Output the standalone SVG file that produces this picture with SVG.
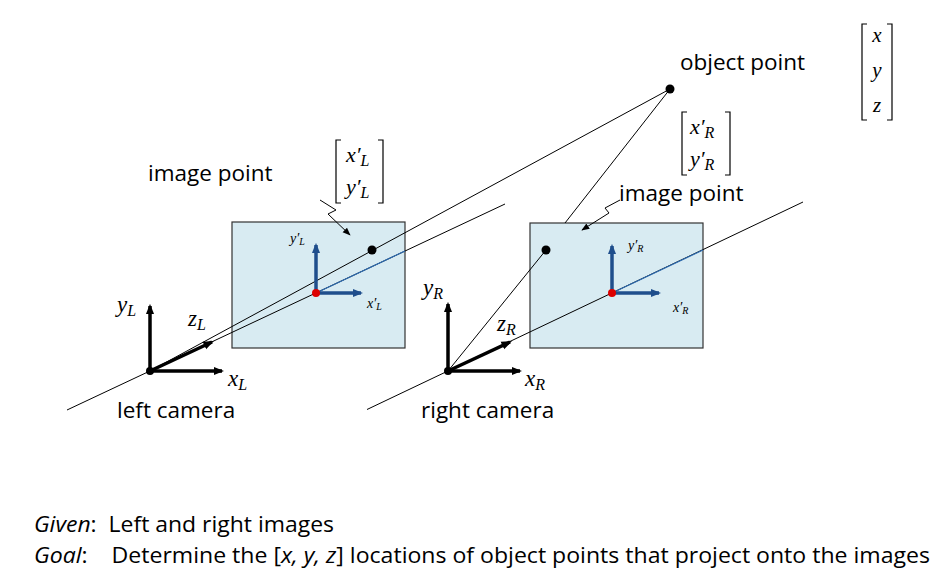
<svg xmlns="http://www.w3.org/2000/svg" width="946" height="586" viewBox="0 0 946 586">
<style>
.s{font-family:"Open Sans","Noto Sans",sans-serif;font-size:22.5px;fill:#000}
.m{font-family:"Liberation Serif","DejaVu Serif",serif;font-style:italic;fill:#000}
.th{stroke:#000;stroke-width:1;fill:none}
.br{stroke:#000;stroke-width:1.2;fill:none}
.k{stroke:#000;stroke-width:3.5;fill:none}
.b{stroke:#1f4e8c;stroke-width:3.5;fill:none}
.img{fill:#d8ebf2;stroke:#333;stroke-width:1.2}
</style>
<defs>
<marker id="ak" viewBox="0 0 10 10" refX="8" refY="5" markerWidth="3" markerHeight="3" orient="auto"><path d="M0,1 L10,5 L0,9 z" fill="#000"/></marker>
<marker id="ab" viewBox="0 0 10 10" refX="8" refY="5" markerWidth="3" markerHeight="3" orient="auto"><path d="M0,1 L10,5 L0,9 z" fill="#1f4e8c"/></marker>
<marker id="as" viewBox="0 0 10 10" refX="9" refY="5" markerWidth="8" markerHeight="8" orient="auto"><path d="M0,1 L10,5 L0,9 z" fill="#000"/></marker>
</defs>
<rect width="946" height="586" fill="#fff"/>
<g id="left-image"><rect class="img" x="232" y="222" width="173" height="126"/></g>
<g id="right-image"><rect class="img" x="530" y="223" width="173" height="125"/></g>
<g id="connectors">
<line class="th" x1="67" y1="410" x2="505" y2="204"/>
<line class="th" x1="150" y1="371" x2="670" y2="89"/>
<line class="th" x1="367" y1="409.5" x2="803" y2="202"/>
<line class="th" x1="448" y1="371" x2="546" y2="250"/>
<line class="th" x1="670" y1="89" x2="565" y2="223"/>
<line x1="316" y1="293" x2="405" y2="251" stroke="#2e6db4" stroke-width="1.2"/>
<line x1="612" y1="293" x2="703" y2="250" stroke="#2e6db4" stroke-width="1.2"/>
<polyline class="th" points="320,200 336,210 328,214 350,235" marker-end="url(#as)" stroke-width="1.2"/>
<polyline class="th" points="620,200 605,208 609,213 582,230" marker-end="url(#as)" stroke-width="1.2"/>
</g>
<g id="left-camera">
<line class="k" x1="150" y1="371" x2="150" y2="306" marker-end="url(#ak)"/>
<line class="k" x1="150" y1="371" x2="222" y2="371" marker-end="url(#ak)"/>
<line class="k" x1="150" y1="371" x2="212" y2="342" marker-end="url(#ak)"/>
<circle cx="150" cy="371" r="4"/>
<text class="m" x="117" y="312" style="font-size:23px">y<tspan style="font-size:16px" dy="4">L</tspan></text>
<text class="m" x="188" y="326" style="font-size:23px">z<tspan style="font-size:16px" dy="4">L</tspan></text>
<text class="m" x="228" y="386" style="font-size:23px">x<tspan style="font-size:16px" dy="4">L</tspan></text>
<text class="s" x="117" y="418">left camera</text>
</g>
<g id="right-camera">
<line class="k" x1="448" y1="371" x2="448" y2="304" marker-end="url(#ak)"/>
<line class="k" x1="448" y1="371" x2="520" y2="371" marker-end="url(#ak)"/>
<line class="k" x1="448" y1="371" x2="510" y2="342" marker-end="url(#ak)"/>
<circle cx="448" cy="371" r="4"/>
<text class="m" x="423" y="295" style="font-size:23px">y<tspan style="font-size:16px" dy="4">R</tspan></text>
<text class="m" x="497" y="331" style="font-size:23px">z<tspan style="font-size:16px" dy="4">R</tspan></text>
<text class="m" x="525" y="386" style="font-size:23px">x<tspan style="font-size:16px" dy="4">R</tspan></text>
<text class="s" x="421" y="418">right camera</text>
</g>
<g id="left-image-axes">
<line class="b" x1="316" y1="293" x2="316" y2="245" marker-end="url(#ab)"/>
<line class="b" x1="316" y1="293" x2="361" y2="293" marker-end="url(#ab)"/>
<circle cx="316" cy="293" r="4" fill="#d00"/>
<circle cx="372" cy="250" r="4.5"/>
<text class="m" x="290" y="243" style="font-size:14px">y′<tspan style="font-size:10px" dy="2">L</tspan></text>
<text class="m" x="367" y="308" style="font-size:14px">x′<tspan style="font-size:10px" dy="2">L</tspan></text>
</g>
<g id="right-image-axes">
<line class="b" x1="612" y1="293" x2="612" y2="246" marker-end="url(#ab)"/>
<line class="b" x1="612" y1="293" x2="659" y2="293" marker-end="url(#ab)"/>
<circle cx="612" cy="293" r="4" fill="#d00"/>
<circle cx="546" cy="250" r="4.5"/>
<text class="m" x="628" y="250" style="font-size:14px">y′<tspan style="font-size:10px" dy="2">R</tspan></text>
<text class="m" x="673" y="312" style="font-size:14px">x′<tspan style="font-size:10px" dy="2">R</tspan></text>
</g>
<g id="object-point">
<circle cx="670" cy="89" r="4.5"/>
<text class="s" x="680" y="70">object point</text>
<path class="br" d="M867,24 H862 V120 H867 M887,24 H892 V120 H887"/>
<text class="m" x="877" y="42" style="font-size:21px" text-anchor="middle">x</text>
<text class="m" x="877" y="77" style="font-size:21px" text-anchor="middle">y</text>
<text class="m" x="877" y="112" style="font-size:21px" text-anchor="middle">z</text>
</g>
<g id="left-image-point">
<text class="s" x="148" y="181">image point</text>
<path class="br" d="M341,140 H336 V203 H341 M378,140 H383 V203 H378"/>
<text class="m" x="346" y="162" style="font-size:22px">x′<tspan style="font-size:16px" dy="4">L</tspan></text>
<text class="m" x="346" y="194" style="font-size:22px">y′<tspan style="font-size:16px" dy="4">L</tspan></text>
</g>
<g id="right-image-point">
<text class="s" x="619" y="201">image point</text>
<path class="br" d="M687,112 H682 V175 H687 M725,112 H730 V175 H725"/>
<text class="m" x="690" y="134" style="font-size:22px">x′<tspan style="font-size:16px" dy="4">R</tspan></text>
<text class="m" x="690" y="166" style="font-size:22px">y′<tspan style="font-size:16px" dy="4">R</tspan></text>
</g>
<g id="caption">
<text class="s" x="34" y="532" style="font-size:21px" xml:space="preserve" textLength="300" lengthAdjust="spacingAndGlyphs"><tspan font-style="italic">Given</tspan>:  Left and right images</text>
<text class="s" x="34" y="563" style="font-size:21px" xml:space="preserve" textLength="896" lengthAdjust="spacingAndGlyphs"><tspan font-style="italic">Goal</tspan>:    Determine the [<tspan font-style="italic">x, y, z</tspan>] locations of object points that project onto the images</text>
</g>
</svg>
